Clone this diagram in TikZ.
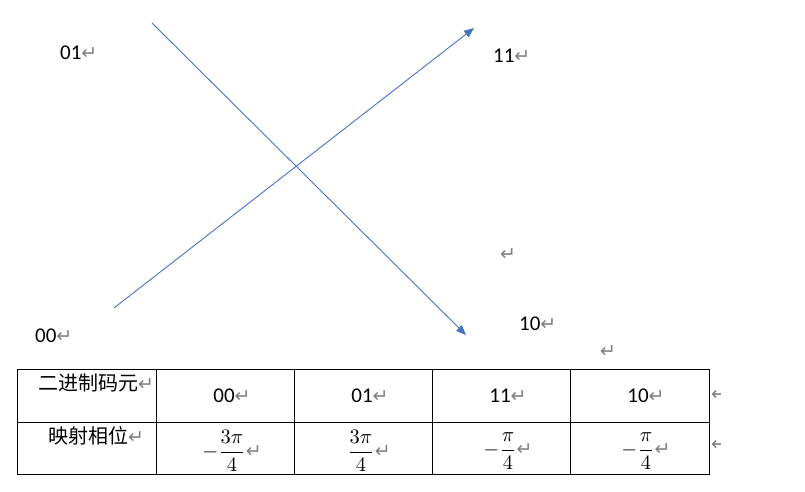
\documentclass[tikz,border=0pt]{standalone}
\usepackage{fontspec}
\setmainfont{Carlito}
\newfontfamily\cjk{Noto Sans CJK SC}
\newfontfamily\symf{DejaVu Sans}
\usetikzlibrary{arrows.meta}
\definecolor{lineblue}{HTML}{4472C4}
\definecolor{markgray}{HTML}{7F7F7F}
\newcommand{\mk}{{\symf\fontsize{19}{19}\selectfont\textcolor{markgray}{↵}}}
\newcommand{\fr}[1]{\scalebox{2.05}{\fontsize{10}{12}\selectfont$\displaystyle #1$}}
\tikzset{
  lbl/.style={inner sep=0pt, anchor=west, font=\fontsize{21}{24}\selectfont},
  cell/.style={inner sep=0pt, font=\fontsize{21}{24}\selectfont},
  arr/.style={draw=lineblue, line width=0.9pt, -{Triangle[length=10pt,width=8pt]}},
  grid/.style={draw=black, line width=0.9pt}
}
\begin{document}
\begin{tikzpicture}[x=1pt,y=-1pt]
\useasboundingbox (0,0) rectangle (805,492);
% arrows
\coordinate (a1s) at (152,23);
\coordinate (a1e) at (466,335);
\coordinate (a2s) at (114,308);
\coordinate (a2e) at (474,28);
\draw[arr] (a1s) -- (a1e);
\draw[arr] (a2s) -- (a2e);
% labels
\node[lbl] (l01) at (60,53) {01\mk};
\node[lbl] (l11) at (493,56) {11\mk};
\node[lbl] (l10) at (519,324) {10\mk};
\node[lbl] (l00) at (35,336) {00\mk};
\node[inner sep=0pt] (m1) at (508,255) {\mk};
\node[inner sep=0pt] (m2) at (608,352) {\mk};
% table
\draw[grid] (17,369) rectangle (709,474);
\draw[grid] (17,422) -- (709,422);
\foreach \x in {156,294,432,570} \draw[grid] (\x,369) -- (\x,474);
\node[cell, anchor=west] (h0) at (38,383) {\cjk\fontsize{20}{22}\selectfont 二进制码元\mk};
\node[cell, anchor=west] (h1) at (48,436) {\cjk\fontsize{20}{22}\selectfont 映射相位\mk};
\node[cell] (c1) at (232,396) {00\mk};
\node[cell] (c2) at (370,396) {01\mk};
\node[cell] (c3) at (508,396) {11\mk};
\node[cell] (c4) at (646,396) {10\mk};
\node[cell] (p1) at (232,451) {\fr{-\frac{3\pi}{4}}\mk};
\node[cell] (p2) at (369,451) {\fr{\frac{3\pi}{4}}\mk};
\node[cell] (p3) at (508,451) {\fr{-\frac{\pi}{4}}\mk};
\node[cell] (p4) at (646,451) {\fr{-\frac{\pi}{4}}\mk};
\begin{scope}
\clip (705,360) rectangle (720,480);
\node[inner sep=0pt, anchor=west] (r1) at (711,395) {\mk};
\node[inner sep=0pt, anchor=west] (r2) at (711,445) {\mk};
\end{scope}
\end{tikzpicture}
\end{document}
